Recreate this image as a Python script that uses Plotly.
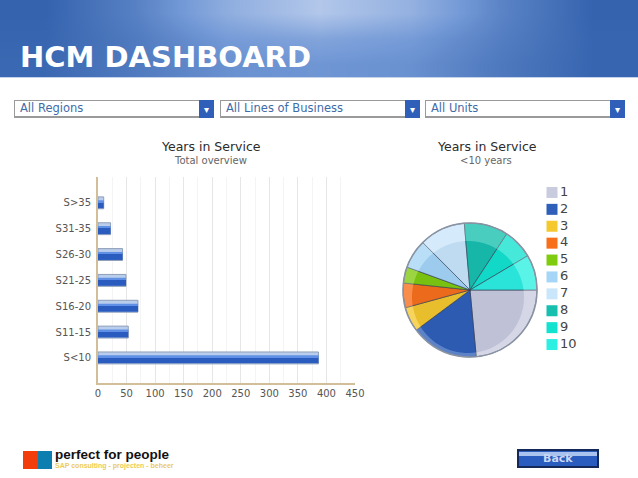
import numpy as np
import plotly.graph_objects as go

W, H = 638, 478

# bar chart
categories = ["S<10", "S11-15", "S16-20", "S21-25", "S26-30", "S31-35", "S>35"]
values = [386, 53, 70, 49, 43, 22, 10]
x_ticks = [0, 50, 100, 150, 200, 250, 300, 350, 400, 450]

# pie chart
pie_labels = ["1", "2", "3", "4", "5", "6", "7", "8", "9", "10"]
pie_values = [91, 63, 23, 23, 15, 27, 43, 41, 28, 33]
pie_colors = ["#c9cbdf", "#2f5fb8", "#f5c82d", "#f86f1a", "#7fcb0e",
              "#a5d5f7", "#c9e6fb", "#17bfae", "#12e3cf", "#2cf0e2"]

# header glow, read by eye: 0 = dark edge, 1 = lightest
header_glow = [
    [0.05, 0.22, 0.42, 0.47, 0.42, 0.20, 0.02],
    [0.02, 0.22, 0.52, 0.62, 0.52, 0.25, 0.02],
    [0.00, 0.28, 0.72, 1.00, 0.76, 0.30, 0.00],
]
dropdowns = ["All Regions", "All Lines of Business", "All Units"]


def px(x):
    return x / W


def py(y):
    return 1 - y / H


def rect(x0, y0, x1, y1, fill, line=None, width=1):
    return dict(type="rect", xref="paper", yref="paper",
                x0=px(x0), x1=px(x1), y0=py(y0), y1=py(y1), fillcolor=fill,
                line=dict(color=line, width=width if line else 0))


def label(x, y, text, size, color, anchor="left", family="DejaVu Sans", bold=False):
    return dict(xref="paper", yref="paper", x=px(x), y=py(y), text="<b>%s</b>" % text if bold else text,
                showarrow=False, xanchor=anchor, yanchor="middle",
                font=dict(family=family, size=size, color=color))


fig = go.Figure()

fig.add_trace(go.Heatmap(z=header_glow, xaxis="x2", yaxis="y2", showscale=False, zsmooth="best",
                         hoverinfo="skip", zmin=0, zmax=1,
                         colorscale=[[0, "#3563ae"], [0.5, "#7399d6"], [1, "#b2c7ea"]]))

# layered bars stand in for the glossy gradient
fig.add_trace(go.Bar(y=categories, x=values, orientation="h", width=0.46, offset=-0.23,
                     marker=dict(color="#b9cdec", line=dict(color="#8f9fb8", width=1))))
fig.add_trace(go.Bar(y=categories, x=values, orientation="h", width=0.26, offset=-0.21,
                     marker=dict(color="#2a5cc0", line=dict(width=0))))
fig.add_trace(go.Bar(y=categories, x=values, orientation="h", width=0.07, offset=0.03,
                     marker=dict(color="#5f90e6", line=dict(width=0))))

fig.add_trace(go.Pie(labels=pie_labels, values=pie_values, sort=False, direction="clockwise", rotation=90,
                     domain=dict(x=[px(403), px(537)], y=[py(357), py(223)]),
                     textinfo="none", showlegend=False,
                     marker=dict(colors=pie_colors, line=dict(color="rgba(50,60,80,0.6)", width=1))))

fig.add_trace(go.Scatter(x=[0] * len(pie_labels), y=pie_labels, xaxis="x3", yaxis="y3", mode="markers+text",
                         text=pie_labels, textposition="middle right",
                         textfont=dict(family="DejaVu Sans", size=13, color="#444444"),
                         marker=dict(symbol="square", size=11, color=pie_colors, line=dict(width=0))))

# glass rim on the pie: ring between the outer edge and a lower-left inner circle
t = np.linspace(0, 2 * np.pi, 90)
outer = list(zip(470 + 67 * np.cos(t), 290 + 67 * np.sin(t)))
inner = list(zip(468 + 56 * np.cos(-t), 297 + 56 * np.sin(-t)))
ring = "M" + " L".join("%.4f,%.4f" % (px(a), py(b)) for a, b in outer) + " Z "
ring += "M" + " L".join("%.4f,%.4f" % (px(a), py(b)) for a, b in inner) + " Z"

shapes = [
    rect(0, 77, 638, 78, "#c5d3ea"),
    dict(type="path", xref="paper", yref="paper", path=ring, fillcolor="rgba(255,255,255,0.22)", line=dict(width=0)),
    dict(type="circle", xref="paper", yref="paper", x0=px(412), x1=px(524), y0=py(353), y1=py(241),
         fillcolor="rgba(20,20,50,0.05)", line=dict(width=0)),
    dict(type="circle", xref="paper", yref="paper", x0=px(403), x1=px(537), y0=py(357), y1=py(223),
         fillcolor="rgba(0,0,0,0)", line=dict(color="#8a93a3", width=1.5)),
    # logo
    rect(23, 451, 38, 469, "#f23c0c"),
    rect(38, 451, 52, 469, "#0d7eb0"),
    # back button
    rect(518, 450, 598, 467, "#2a5cc0", "#14285a", 2),
    rect(519, 452, 597, 456, "#a9c3ee"),
]

annotations = [
    label(18, 57, "HCM DASHBOARD", 29, "white", bold=True),
    label(211, 146, "Years in Service", 12.5, "#2b2b2b", "center"),
    label(210, 161, "Total overview", 10, "#666666", "center"),
    label(487, 146, "Years in Service", 12.5, "#2b2b2b", "center"),
    label(486, 161, "&lt;10 years", 10, "#666666", "center"),
    label(53, 454, "perfect for people", 13.5, "#111111", family="Liberation Sans", bold=True),
    label(53, 466, "SAP consulting - projecten - beheer", 7, "#eccb5a", family="Liberation Sans", bold=True),
    label(558, 458, "Back", 11, "#c9d8f2", "center", bold=True),
]

# filter boxes along the top
for name, x0 in zip(dropdowns, [14, 220, 425]):
    x1 = x0 + 200
    shapes.append(rect(x0, 100, x1, 118, "#9a9a9a"))
    shapes.append(rect(x0 + 1, 101, x1 - 1, 116, "white"))
    shapes.append(rect(x1 - 15, 100, x1, 118, "#2f5fb8"))
    annotations.append(label(x0 + 4, 108, name, 11.5, "#3f6ca8"))
    annotations.append(label(x1 - 7.5, 109, "▾", 10, "white", "center"))

fig.update_layout(
    width=W, height=H, margin=dict(l=0, r=0, t=0, b=0, autoexpand=False), autosize=False,
    paper_bgcolor="white", plot_bgcolor="white", showlegend=False, barmode="overlay",
    shapes=shapes, annotations=annotations,
    xaxis=dict(domain=[px(98), px(355)], range=[0, 450], tickvals=x_ticks, ticks="",
               showgrid=True, gridcolor="#e6e6e6", gridwidth=1,
               minor=dict(dtick=25, showgrid=True, gridcolor="#f4f4f4"),
               showline=True, linecolor="#d2bf9a", linewidth=2, zeroline=False,
               tickfont=dict(family="DejaVu Sans", size=10, color="#555555")),
    yaxis=dict(domain=[py(383), py(177)], type="category", categoryorder="array", categoryarray=categories,
               range=[-0.97, 7], showgrid=False, ticks="", ticklabelstandoff=3,
               showline=True, linecolor="#d2bf9a", linewidth=2, zeroline=False,
               tickfont=dict(family="DejaVu Sans", size=10, color="#555555")),
    xaxis2=dict(domain=[0, 1], visible=False, anchor="y2", fixedrange=True),
    yaxis2=dict(domain=[py(77), 1], visible=False, anchor="x2", fixedrange=True),
    xaxis3=dict(domain=[px(540), px(600)], range=[-12, 48], visible=False, anchor="y3"),
    yaxis3=dict(domain=[py(353), py(184)], type="category", categoryorder="array", categoryarray=pie_labels,
                range=[9.5, -0.5], visible=False, anchor="x3"),
)

# the default 8px body margin would push the whole page off
fig.write_html("out.html", config={"displayModeBar": False}, post_script="document.body.style.margin='0';")
